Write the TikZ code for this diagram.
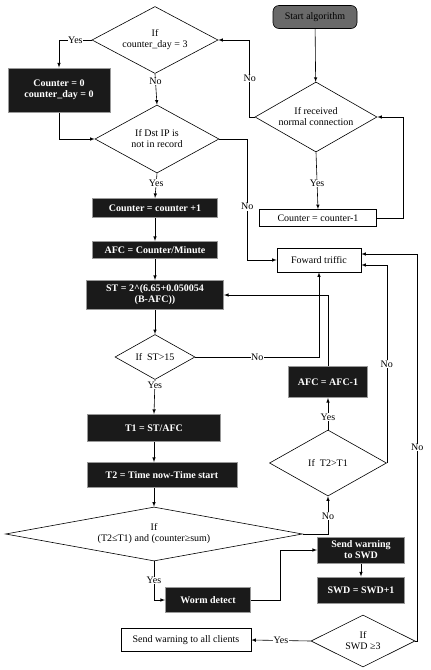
\documentclass[tikz,border=0pt]{standalone}
\usepackage{fontspec}
\setmainfont{Liberation Serif}
\usepackage{tikz}
\usetikzlibrary{shapes,shapes.geometric}
\usetikzlibrary{calc}
\definecolor{boxblack}{RGB}{26,26,26}
\definecolor{startgray}{RGB}{105,105,105}
\tikzstyle{every node}=[font=\fontsize{10}{11}\selectfont]
\tikzstyle{blk}=[rectangle, fill=boxblack, draw=gray!80, line width=1pt, text=white, font=\fontsize{10}{11}\selectfont\bfseries, align=center, inner sep=0pt]
\tikzstyle{wht}=[rectangle, draw, fill=white, line width=0.6pt, align=center, inner sep=0pt]
\tikzstyle{ifbox}=[diamond, draw, fill=white, line width=0.6pt, align=center, inner sep=0pt]
\tikzstyle{lbl}=[fill=white, inner sep=0.5pt]
\tikzstyle{conn}=[->, >=latex, line width=0.6pt]

\begin{document}
\begin{tikzpicture}[x=1pt,y=-1pt]
\useasboundingbox (0,0) rectangle (431,670);
\node[rectangle, rounded corners=6pt, draw, fill=startgray, line width=0.6pt, minimum width=84pt, minimum height=23pt, inner sep=0pt] (start) at (315,17) {Start algorithm};
\node[ifbox, aspect=1.9, minimum width=126pt, minimum height=67pt] (ifday) at (155,40) {If\\counter\_day = 3};
\node[blk, minimum width=102pt, minimum height=44pt] (reset) at (59,90) {Counter = 0\\counter\_day = 0};
\node[ifbox, aspect=1.8, minimum width=124pt, minimum height=68pt] (ifdst) at (157,139) {If Dst IP is\\not in record};
\node[ifbox, aspect=1.75, minimum width=122pt, minimum height=70pt] (ifrecv) at (316,117) {If received\\normal connection};
\node[wht, minimum width=117pt, minimum height=17pt] (dec) at (318,218) {Counter = counter-1};
\node[blk, minimum width=125pt, minimum height=19pt] (inc) at (155,208) {Counter = counter +1};
\node[blk, minimum width=125pt, minimum height=17pt] (afc) at (155,250) {AFC = Counter/Minute};
\node[blk, minimum width=137pt, minimum height=29pt] (st) at (155,295) {ST = 2\textasciicircum(6.65+0.050054\\(B-AFC))};
\node[ifbox, aspect=1.8, minimum width=80pt, minimum height=45pt] (ifst) at (155,357) {If~~ST>15};
\node[wht, minimum width=84pt, minimum height=24pt] (fwd) at (319,260) {Foward triffic};
\node[blk, minimum width=79pt, minimum height=31pt] (afcdec) at (328,382) {AFC = AFC-1};
\node[blk, minimum width=133pt, minimum height=27pt] (tone) at (154,428) {T1 = ST/AFC};
\node[blk, minimum width=150pt, minimum height=25pt] (ttwo) at (162,475) {T2 = Time now-Time start};
\node[ifbox, aspect=5.5, minimum width=297pt, minimum height=54pt] (ifworm) at (154,534) {If\\(T2≤T1) and (counter≥sum)};
\node[ifbox, aspect=1.8, minimum width=117pt, minimum height=66pt] (ift) at (328,463) {If~~T2>T1};
\node[blk, minimum width=87pt, minimum height=26pt] (warn) at (361,550) {Send warning\\to SWD};
\node[blk, minimum width=87pt, minimum height=26pt] (swd) at (361,590) {SWD = SWD+1};
\node[blk, minimum width=85pt, minimum height=25pt] (worm) at (208,600) {Worm detect};
\node[wht, minimum width=130pt, minimum height=23pt] (all) at (186,640) {Send warning to all clients};
\node[ifbox, aspect=2, minimum width=104pt, minimum height=52pt] (ifswd) at (363,641) {If\\SWD ≥3};

\draw[conn] (start) -- (ifrecv);
\draw[conn] (ifrecv.west) -- ++(-5,0) |- node[lbl, pos=0.25] {No} (ifday.east);
\draw[conn] (ifrecv.south) -- node[lbl, pos=0.55] {Yes} (dec.north);
\draw[conn] (dec.east) -- ++(26,0) |- (ifrecv.east);
\draw[conn] (ifday.west) -| node[lbl, pos=0.25] {Yes} (reset.north);
\draw[conn] (ifday.south) -- node[lbl, pos=0.25] {No} (ifdst.north);
\draw[conn] (reset.south) |- (ifdst.west);
\draw[conn] (ifdst.south) -- node[lbl, pos=0.4] {Yes} (inc.north);
\draw[conn] (ifdst.east) -- ++(28,0) |- node[lbl, pos=0.28] {No} (fwd.west);
\draw[conn] (inc) -- (afc);
\draw[conn] (afc) -- (st);
\draw[conn] (st) -- (ifst);
\draw[conn] (ifst.east) -| node[lbl, pos=0.25] {No} (fwd.south);
\draw[conn] (ifst.south) -- node[lbl, pos=0.15] {Yes} (tone.north);
\draw[conn] (tone) -- (ttwo.north -| tone.south);
\draw[conn] (ttwo.south -| tone.south) -- (ifworm.north);
\draw[conn] (afcdec.north) |- (st.east);
\draw[conn] (ift.north) -- node[lbl, pos=0.4] {Yes} (afcdec.south);
\draw[conn] (ift.east) |- node[lbl, pos=0.25] {No} ([yshift=-5pt]fwd.east);
\draw[conn] (ifworm.east) -| node[lbl, pos=0.74] {No} (ift.south);
\draw[conn] (ifworm.south) |- node[lbl, pos=0.25] {Yes} (worm.west);
\draw[conn] (worm.east) -- ++(29,0) |- (warn.west);
\draw[conn] (warn) -- (swd);
\draw[conn] (ifswd.west) -- node[lbl] {Yes} (all.east);
\draw[conn] (ifswd.east) -- ++(2,0) |- node[lbl, pos=0.25] {No} ([yshift=6pt]fwd.east);
\end{tikzpicture}
\end{document}
